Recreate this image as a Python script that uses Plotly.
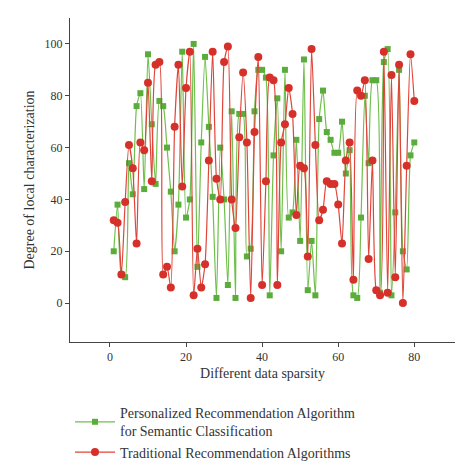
import plotly.graph_objects as go

x_vals = list(range(1, 81))
green_vals = [20, 38, 11, 10, 54, 42, 76, 81, 44, 96, 69, 46, 78, 76, 60, 43, 20, 38, 97, 33,
              40, 100, 14, 62, 95, 68, 41, 2, 60, 40, 7, 74, 2, 73, 73, 18, 21, 74, 90, 90,
              87, 3, 57, 79, 20, 90, 33, 35, 63, 24, 94, 5, 24, 3, 71, 82, 66, 63, 58, 58,
              70, 50, 59, 3, 2, 33, 80, 54, 86, 86, 4, 93, 98, 3, 35, 90, 20, 13, 57, 62]
red_vals = [32, 31, 11, 39, 61, 52, 23, 62, 59, 85, 47, 92, 93, 11, 14, 6, 68, 92, 45, 83,
            97, 3, 21, 6, 15, 55, 97, 48, 40, 93, 99, 40, 29, 64, 89, 62, 2, 66, 95, 7,
            47, 87, 86, 7, 62, 69, 83, 73, 34, 53, 52, 18, 98, 61, 32, 36, 47, 46, 46, 38,
            23, 55, 62, 9, 82, 80, 86, 17, 55, 5, 3, 97, 4, 88, 10, 92, 0, 53, 96, 78]

green_name = "Personalized Recommendation Algorithm<br>for Semantic Classification"
red_name = "Traditional Recommendation Algorithms"

fig = go.Figure()
fig.add_trace(go.Scatter(
    x=x_vals, y=green_vals, name=green_name, mode="lines+markers",
    line=dict(color="#6fbf4a", width=1.2, shape="spline", smoothing=0.6),
    marker=dict(symbol="square", size=6, color="#5aad3a"),
))
fig.add_trace(go.Scatter(
    x=x_vals, y=red_vals, name=red_name, mode="lines+markers",
    line=dict(color="#e0453a", width=1.2, shape="spline", smoothing=0.6),
    marker=dict(symbol="circle", size=8, color="#d6302a"),
))

axis_common = dict(showline=True, linecolor="#444", linewidth=1, mirror=False,
                   ticks="outside", ticklen=4, tickcolor="#444", showgrid=False,
                   zeroline=False, tickfont=dict(size=12, color="#333"))
fig.update_xaxes(range=[-10.5, 90.7], tickvals=[0, 20, 40, 60, 80],
                 title=dict(text="Different data sparsity", font=dict(size=14), standoff=4),
                 **axis_common)
fig.update_yaxes(range=[-15, 110], tickvals=[0, 20, 40, 60, 80, 100],
                 title=dict(text="Degree of local characterization", font=dict(size=14), standoff=6),
                 **axis_common)

fig.update_layout(
    width=474, height=474,
    margin=dict(l=62, r=27, t=10, b=140),
    plot_bgcolor="white", paper_bgcolor="white",
    font=dict(family="Liberation Serif, serif", color="#333"),
    legend=dict(x=0.0, y=-0.17, xanchor="left", yanchor="top",
                font=dict(size=14), tracegroupgap=8, itemwidth=40),
)
fig.write_html("out.html")
